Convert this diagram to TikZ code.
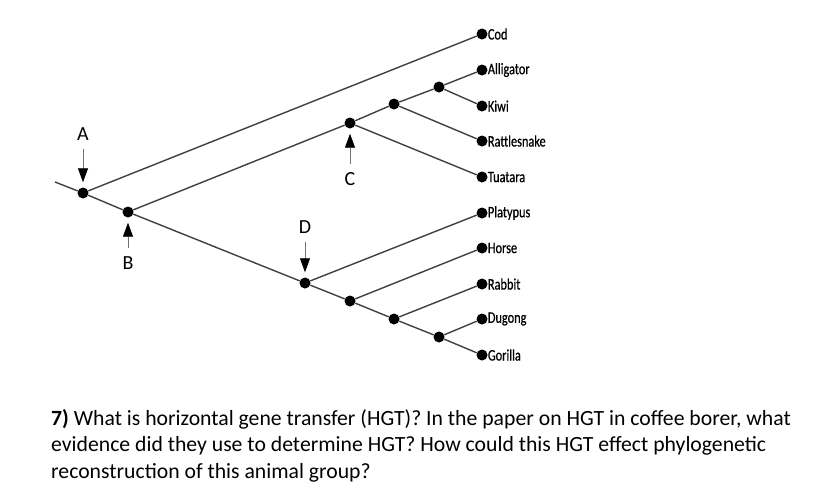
\documentclass[tikz,border=0pt]{standalone}
\usepackage{fontspec}
\setmainfont{Carlito}
\newfontfamily\leaffont[FakeStretch=0.77,FakeBold=0.6]{Carlito}
\usetikzlibrary{arrows.meta}

\begin{document}
\begin{tikzpicture}[x=1pt,y=-1pt,
	dot/.style={circle,fill=black,inner sep=0pt,minimum size=11pt},
	branch/.style={draw=black!75,line width=1.4pt},
	taxon/.style={inner sep=1pt,label distance=-1pt,font=\leaffont\fontsize{16}{16}\selectfont},
	pointer/.style={-{Triangle[length=14pt,width=10pt,color=black]},line width=0.8pt,black!55,shorten >=5pt,shorten <=7pt},
	lbl/.style={inner sep=1pt,font=\fontsize{20}{20}\selectfont}]
	\useasboundingbox (0,0) rectangle (827,501);
	% internal nodes
	\coordinate (stem) at (55,182);
	\node at (83,193) (nA) [dot] {};
	\node at (128,212) (nB) [dot] {};
	\node at (350,123) (nC) [dot] {};
	\node at (394,104) (nC1) [dot] {};
	\node at (439,87) (nC2) [dot] {};
	\node at (305,283) (nD) [dot] {};
	\node at (350,301) (nD1) [dot] {};
	\node at (394,319) (nD2) [dot] {};
	\node at (439,337) (nD3) [dot] {};
	% tips
	\node at (482,34) (cod) [dot,label={[taxon]right:Cod}] {};
	\node at (482,70) (alligator) [dot,label={[taxon]right:Alligator}] {};
	\node at (482,106) (kiwi) [dot,label={[taxon]right:Kiwi}] {};
	\node at (482,141) (rattlesnake) [dot,label={[taxon]right:Rattlesnake}] {};
	\node at (482,177) (tuatara) [dot,label={[taxon]right:Tuatara}] {};
	\node at (482,213) (platypus) [dot,label={[taxon]right:Platypus}] {};
	\node at (482,248) (horse) [dot,label={[taxon]right:Horse}] {};
	\node at (482,284) (rabbit) [dot,label={[taxon]right:Rabbit}] {};
	\node at (482,319) (dugong) [dot,label={[taxon]right:Dugong}] {};
	\node at (482,355) (gorilla) [dot,label={[taxon]right:Gorilla}] {};
	% branches
	\draw[branch] (stem) -- (nA) -- (nB) -- (nD) -- (nD1) -- (nD2) -- (nD3) -- (gorilla);
	\draw[branch] (nA) -- (cod);
	\draw[branch] (nB) -- (nC) -- (nC1) -- (nC2) -- (alligator);
	\draw[branch] (nC2) -- (kiwi); \draw[branch] (nC1) -- (rattlesnake); \draw[branch] (nC) -- (tuatara);
	\draw[branch] (nD) -- (platypus); \draw[branch] (nD1) -- (horse); \draw[branch] (nD2) -- (rabbit); \draw[branch] (nD3) -- (dugong);
	% clade markers
	\node at (83,134) (labA) [lbl] {A};
	\node at (128,263) (labB) [lbl] {B};
	\node at (350,179) (labC) [lbl] {C};
	\node at (305,227) (labD) [lbl] {D};
	\draw[pointer] (labA) -- (nA);
	\draw[pointer] (labB) -- (nB);
	\draw[pointer] (labC) -- (nC);
	\draw[pointer] (labD) -- (nD);
	\node at (51,409) (question) [anchor=north west,align=left,inner sep=0pt,font=\fontsize{21.7}{26.5}\selectfont]
		{\textbf{7)} What is horizontal gene transfer (HGT)? In the paper on HGT in coffee borer, what\\
		evidence did they use to determine HGT? How could this HGT effect phylogenetic\\
		reconstruction of this animal group?};
\end{tikzpicture}
\end{document}
